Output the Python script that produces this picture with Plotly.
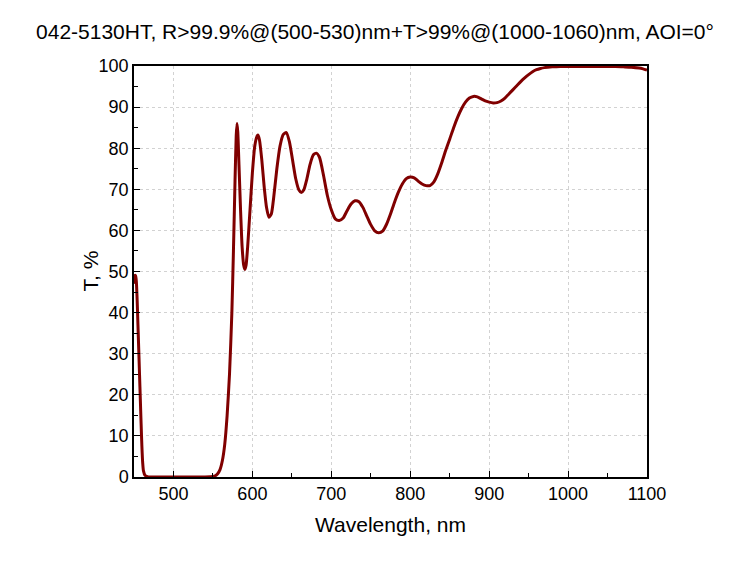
import plotly.graph_objects as go

wavelength = [450, 451, 452, 453, 454, 455, 456, 457, 458, 459, 460, 461, 462, 464, 467, 470,
              480, 500, 520, 540, 550, 553, 556, 559, 562, 565, 568, 571, 574, 576, 578, 579.5,
              580.5, 581.5, 583, 585, 587, 589, 590.5, 592, 594, 597, 600, 603, 606, 607, 609,
              612, 615, 618, 621, 624, 627, 631, 635, 639, 643, 647, 651, 655, 659, 662, 665,
              669, 673, 677, 681, 685, 690, 695, 700, 705, 710, 715, 720, 725, 730, 735, 740,
              745, 750, 755, 760, 765, 770, 775, 780, 785, 790, 795, 800, 805, 810, 815, 820,
              825, 830, 835, 840, 845, 850, 855, 860, 865, 870, 875, 880, 885, 890, 895, 900,
              905, 910, 915, 920, 925, 930, 935, 940, 945, 950, 955, 960, 965, 970, 980, 990,
              1000, 1020, 1040, 1060, 1070, 1080, 1090, 1095, 1100]
transmission = [47, 49, 49, 47.5, 43, 37, 31, 25, 19, 13, 7.5, 3.5, 1.5, 0.4, 0.1, 0,
                0, 0, 0, 0, 0.1, 0.3, 0.8, 1.8, 4, 8, 15, 25, 40, 55, 72, 83,
                86, 84, 76, 65, 56, 51.5, 50.5, 51.5, 56, 65, 74, 80.5, 83, 83.2, 82,
                77, 70.5, 65.5, 63.2, 64, 68, 75, 80.5, 83.3, 83.8, 81.5, 77, 72.5, 69.8, 69.2, 69.8,
                72.5, 76, 78.3, 78.8, 77.8, 73.5, 68.5, 65, 62.8, 62.4, 63, 64.8, 66.4, 67.2, 67, 65.6,
                63.5, 61.4, 59.9, 59.4, 59.8, 61.5, 64, 66.8, 69.3, 71.3, 72.6, 73, 72.8, 72, 71.3, 70.9,
                70.9, 71.8, 73.8, 76.5, 79.5, 82.2, 85, 87.5, 89.6, 91.2, 92.2, 92.6, 92.5, 92, 91.5, 91.2,
                91, 91.1, 91.5, 92.2, 93.2, 94.2, 95.2, 96.2, 97.1, 97.9, 98.6, 99.1, 99.4, 99.6, 99.8, 99.9,
                99.9, 99.9, 99.9, 99.9, 99.8, 99.7, 99.5, 99.3, 99.0]

title_text = "042-5130HT, R>99.9%@(500-530)nm+T>99%@(1000-1060)nm, AOI=0°"
x_title = "Wavelength, nm"
y_title = "T, %"
x_ticks = [500, 600, 700, 800, 900, 1000, 1100]
y_ticks = [0, 10, 20, 30, 40, 50, 60, 70, 80, 90, 100]

fig = go.Figure()
fig.add_trace(go.Scatter(
    x=wavelength, y=transmission, mode="lines",
    line=dict(color="#800000", width=3, shape="spline", smoothing=0.6),
    showlegend=False, hoverinfo="skip"))

font_family = "Liberation Sans, Arial, sans-serif"
axis_common = dict(
    showline=True, linecolor="black", linewidth=1.5, mirror=True,
    ticks="inside", ticklen=6, tickwidth=1.2, tickcolor="black",
    showgrid=True, gridcolor="#d2d2d2", griddash="3px,3px", gridwidth=1,
    zeroline=False,
    tickfont=dict(family=font_family, size=18, color="black"),
)

fig.update_xaxes(
    range=[450, 1100], tickvals=x_ticks,
    title=dict(text=x_title, font=dict(family=font_family, size=21, color="black"), standoff=14),
    minor=dict(dtick=50, tick0=450, ticks="inside", ticklen=4, tickcolor="black", showgrid=False),
    **axis_common)
fig.update_yaxes(
    range=[0, 100], tickvals=y_ticks,
    minor=dict(dtick=5, tick0=0, ticks="inside", ticklen=4, tickcolor="black", showgrid=False),
    **axis_common)

fig.add_annotation(
    text=y_title, textangle=-90, showarrow=False,
    xref="paper", yref="paper", x=(90 - 134) / 513, y=0.5,
    xanchor="center", yanchor="middle",
    font=dict(family=font_family, size=21, color="black"))

fig.update_layout(
    width=750, height=574,
    margin=dict(l=134, r=103, t=66, b=97),
    paper_bgcolor="white", plot_bgcolor="white",
    title=dict(text=title_text, x=0.5, xref="container", xanchor="center",
               y=0.944, yref="container", yanchor="middle",
               font=dict(family=font_family, size=21, color="black")),
)

fig.write_html("out.html")
